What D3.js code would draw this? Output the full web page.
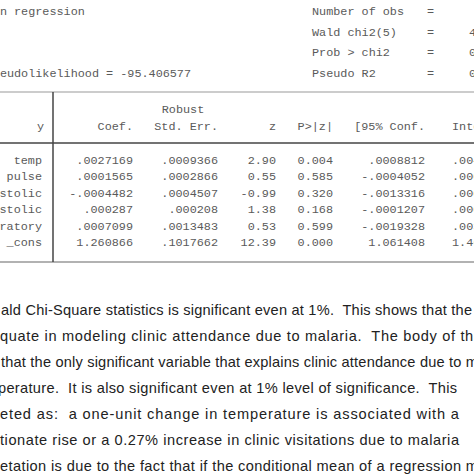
<!DOCTYPE html>
<html><head><meta charset="utf-8">
<script src="https://cdn.jsdelivr.net/npm/d3@7"></script>
<style>body{margin:0;background:#fff}svg{display:block}text{white-space:pre}</style>
</head><body><svg id="c" width="474" height="474"></svg>
<script>
const headerLeft = ["Poisson regression", "", "", "Log pseudolikelihood = -95.406577"];
const headerRightLabels = ["Number of obs", "Wald chi2(5)", "Prob > chi2", "Pseudo R2"];
const headerRightValues = ["", "4", "0", "0"];
const rowNames = ["temp", "pulse", "systolic", "diastolic", "respiratory", "_cons"];
const coef = [".0027169", ".0001565", "-.0004482", ".000287", ".0007099", "1.260866"];
const stdErr = [".0009366", ".0002866", ".0004507", ".000208", ".0013483", ".1017662"];
const zVal = ["2.90", "0.55", "-0.99", "1.38", "0.53", "12.39"];
const pVal = ["0.004", "0.585", "0.320", "0.168", "0.599", "0.000"];
const ciLow = [".0008812", "-.0004052", "-.0013316", "-.0001207", "-.0019328", "1.061408"];
const ciHigh = [".0045526", ".0007182", ".0004352", ".0006947", ".0033526", "1.460324"];
const paragraph = [
 ["ald Chi-Square statistics is significant even at 1%.  This shows that the", 1, 472],
 ["quate in modeling clinic attendance due to malaria.  The body of the", 0, 482],
 ["that the only significant variable that explains clinic attendance due to m", 1, 478],
 ["perature.  It is also significant even at 1% level of significance.  This", -2, 457],
 ["eted as:  a one-unit change in temperature is associated with a", 0, 459],
 ["tionate rise or a 0.27% increase in clinic visitations due to malaria", 0, 459],
 ["etation is due to the fact that if the conditional mean of a regression m", 0, 478]
];
const svg = d3.select("#c");
const mono = "'Liberation Mono', 'DejaVu Sans Mono', monospace";
const cw = 7.1;
const g = svg.append("g").attr("font-family", mono).attr("font-size", 11.8).attr("fill", "#5a5a5a");
const hy = d3.scalePoint().domain(d3.range(4)).range([11, 73]);
g.selectAll(".hl").data(headerLeft).join("text").attr("x", -6*cw)
 .attr("y",(d,i)=>hy(i)+4).text(d=>d);
g.selectAll(".hr").data(headerRightLabels).join("text").attr("x",312).attr("y",(d,i)=>hy(i)+4).text(d=>d);
g.selectAll(".he").data(headerRightLabels).join("text").attr("x",427).attr("y",(d,i)=>hy(i)+4).text("=");
g.selectAll(".hv").data(headerRightValues).join("text").attr("x",469).attr("y",(d,i)=>hy(i)+4).text(d=>d);
svg.append("line").attr("x1",0).attr("x2",474).attr("y1",92).attr("y2",92).attr("stroke","#999").attr("stroke-width",1.2);
svg.append("line").attr("x1",0).attr("x2",474).attr("y1",143).attr("y2",143).attr("stroke","#444").attr("stroke-width",1.5);
svg.append("line").attr("x1",0).attr("x2",474).attr("y1",262).attr("y2",262).attr("stroke","#666").attr("stroke-width",1.2);
svg.append("line").attr("x1",53).attr("x2",53).attr("y1",92).attr("y2",262).attr("stroke","#444").attr("stroke-width",1.5);
g.append("text").attr("x",183).attr("y",113).attr("text-anchor","middle").text("Robust");
const colsX = [44,133,218,276,333,425];
const heads = ["y","Coef.","Std. Err.","z","P>|z|","[95% Conf."];
g.selectAll(".th").data(heads).join("text").attr("x",(d,i)=>colsX[i]).attr("y",130).attr("text-anchor","end").text(d=>d);
g.append("text").attr("x",452).attr("y",130).text("Interval]");
const ry = d3.scaleLinear().domain([0,5]).range([160,242]);
const cols = [rowNames, coef, stdErr, zVal, pVal, ciLow];
const rx = [42,133,218,276,333,425];
cols.forEach((arr,ci)=>{
  g.selectAll(".c"+ci).data(arr).join("text").attr("x",rx[ci]).attr("y",(d,i)=>ry(i)+4).attr("text-anchor","end").text(d=>d);
});
g.selectAll(".ch").data(ciHigh).join("text").attr("x",452).attr("y",(d,i)=>ry(i)+4).text(d=>d);
const py = d3.scaleLinear().domain([0,6]).range([315,471]);
svg.append("g").attr("font-family","'Liberation Sans', Arial, sans-serif").attr("font-size",14.6).attr("fill","#222")
 .selectAll("text").data(paragraph).join("text")
 .attr("x",d=>d[1]).attr("y",(d,i)=>py(i)).attr("textLength",d=>d[2]-d[1]).attr("lengthAdjust","spacing").text(d=>d[0]);
</script></body></html>
